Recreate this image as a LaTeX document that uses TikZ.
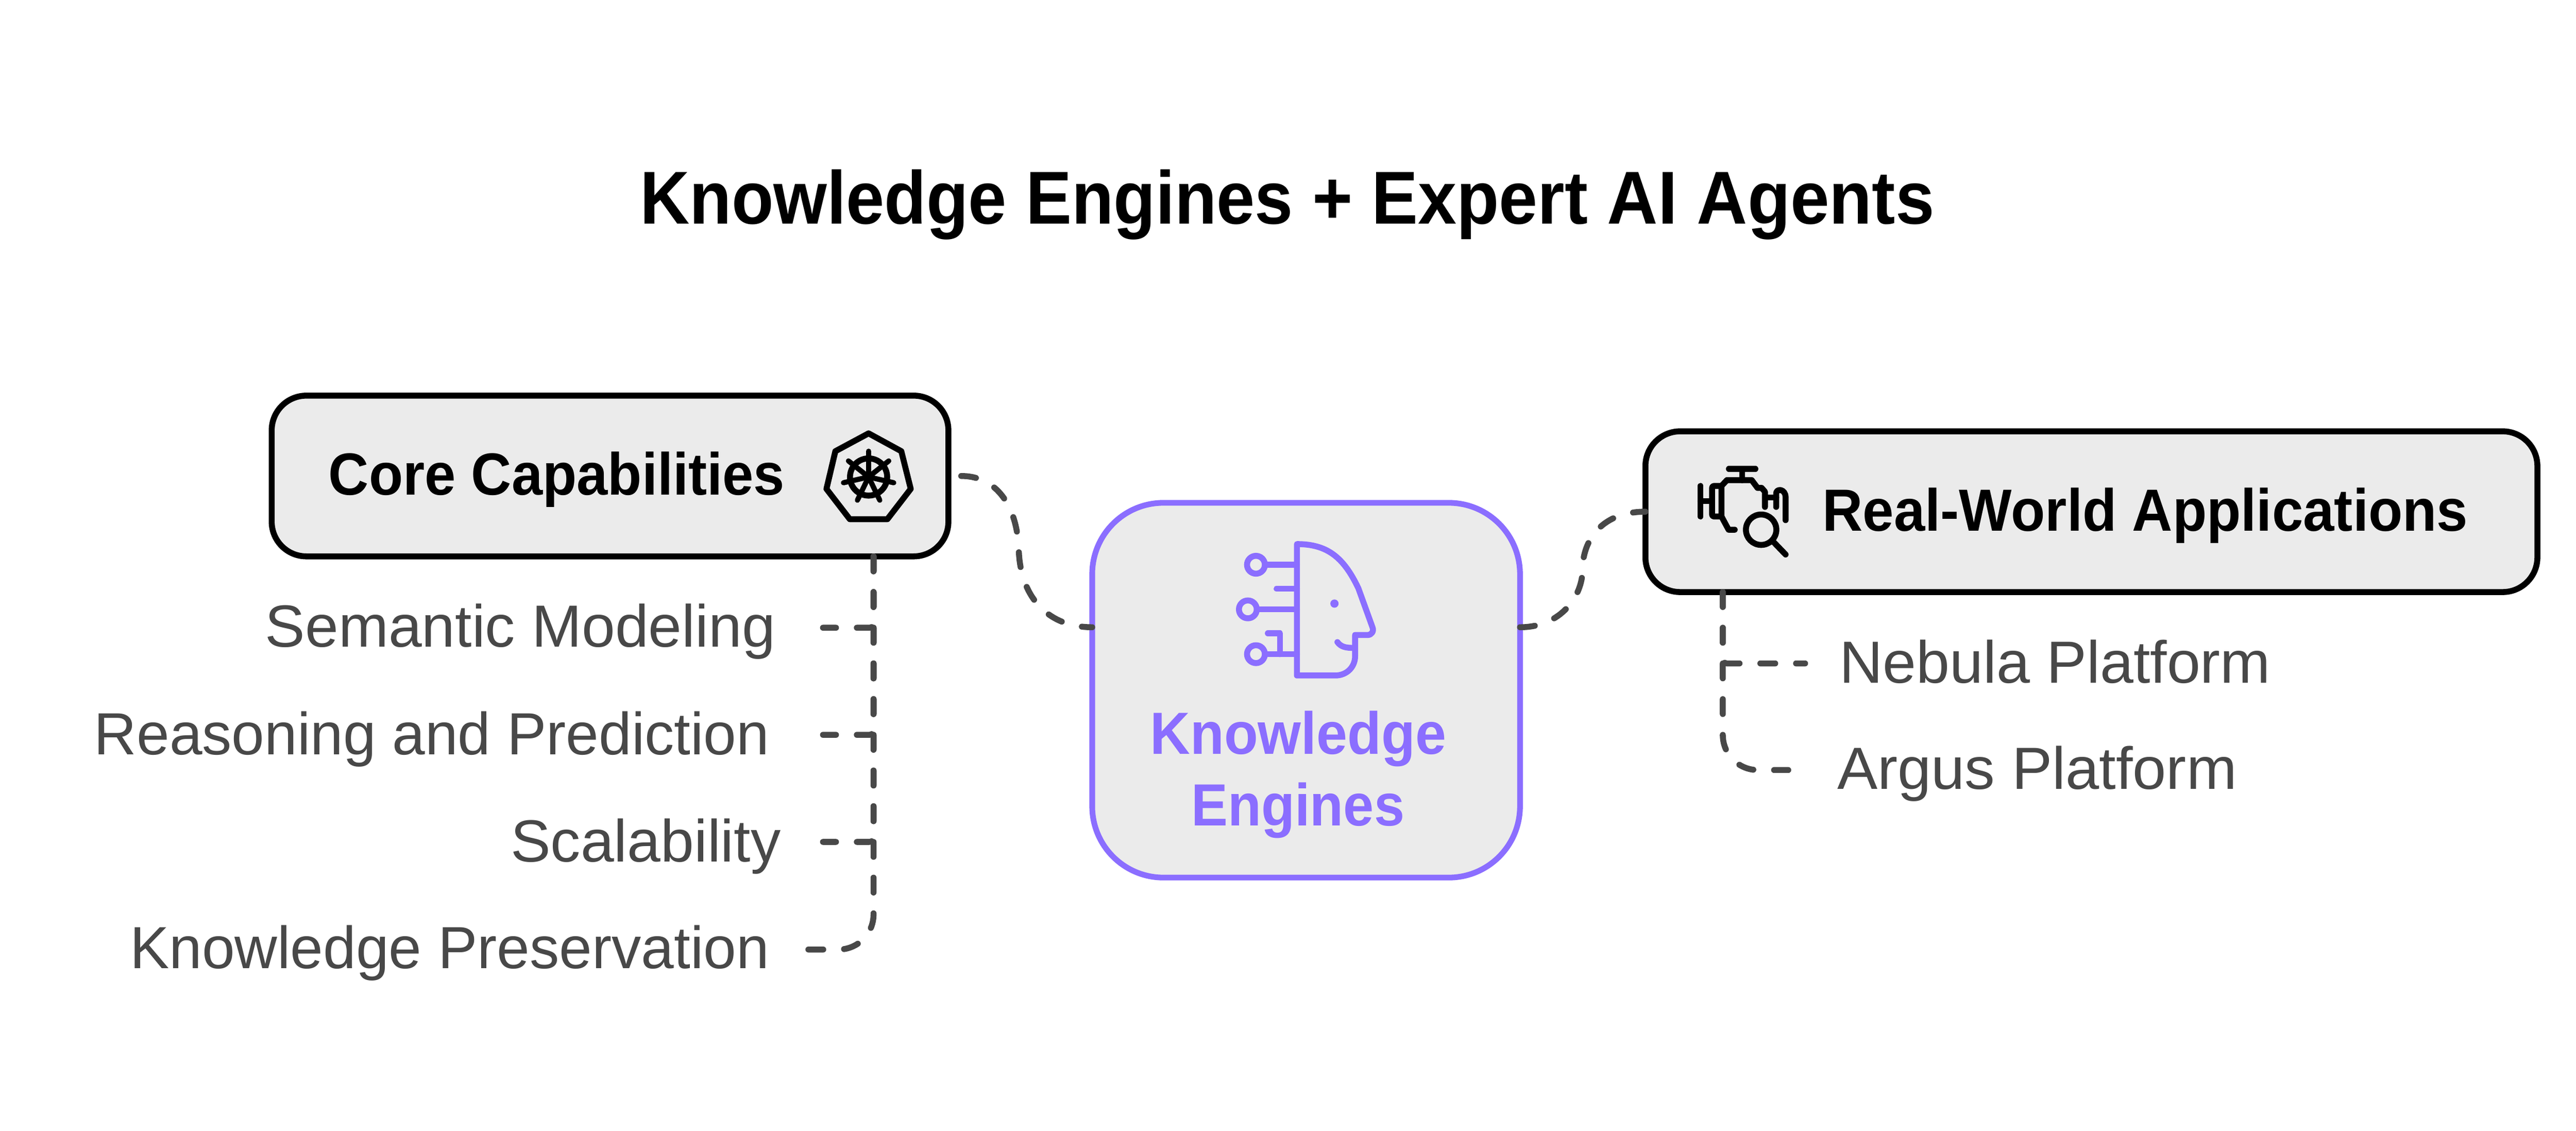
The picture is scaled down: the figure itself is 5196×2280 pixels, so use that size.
\documentclass[tikz,border=0pt]{standalone}
\usepackage{fontspec}
\usepackage{graphicx}
\setmainfont{Liberation Sans}
\newdimen\pxu \pxu=0.24pt
\newcommand{\fitw}[2]{\resizebox{#1\pxu}{\height}{#2}}
\definecolor{boxfill}{HTML}{EBEBEB}
\definecolor{violet}{HTML}{8B6EFF}
\definecolor{linegrey}{HTML}{484848}
\tikzset{
  box/.style={draw=black,fill=boxfill,line width=2.88pt,rectangle,rounded corners=16.8pt,outer sep=0pt,inner sep=0pt},
  enginebox/.style={draw=violet,fill=boxfill,line width=2.76pt,rectangle,rounded corners=34.5pt,outer sep=0pt,inner sep=0pt},
  conn/.style={draw=linegrey,line width=2.88pt,line cap=round,line join=round,dash pattern=on 7.2pt off 10.08pt},
  txt/.style={anchor=base west,inner sep=0pt,outer sep=0pt},
  titletext/.style={txt,font=\fontsize{36.3pt}{44pt}\selectfont\bfseries,text=black},
  headtext/.style={txt,font=\fontsize{28.8pt}{34pt}\selectfont\bfseries,text=black},
  violettext/.style={txt,font=\fontsize{28.8pt}{34pt}\selectfont\bfseries,text=violet},
  itemtext/.style={txt,font=\fontsize{28.8pt}{34pt}\selectfont,text=linegrey},
  ico/.style={line width=2.88pt,line cap=round,line join=round},
}
\begin{document}
\begin{tikzpicture}[x=0.24pt,y=-0.24pt]
\useasboundingbox (0,0) rectangle (5196,2280);
\fill[white] (0,0) rectangle (5196,2280);

\node[titletext] (title) at (1291,452) {\fitw{1356}{Knowledge Engines }\fitw{120}{+ }\fitw{475}{Expert }\fitw{181}{AI }\fitw{479}{Agents}};

\node[box,minimum width=327.6pt,minimum height=77.8pt] (core) at (1230.5,960) {};
\node[box,minimum width=431.8pt,minimum height=77.8pt] (real) at (4218.5,1032) {};
\node[enginebox,minimum width=207.1pt,minimum height=181.4pt] (engines) at (2634.5,1392) {};

\node[headtext] (coretext) at (663,998) {\fitw{920}{Core Capabilities}};
\node[headtext] (realtext) at (3676,1071) {\fitw{1302}{Real-World Applications}};
\node[violettext] (ketext) at (2320,1521) {\fitw{597}{Knowledge}};
\node[violettext] (engtext) at (2403,1665) {\fitw{430}{Engines}};

\node[itemtext] (sem) at (535,1305) {\fitw{1029}{Semantic Modeling}};
\node[itemtext] (rea) at (190,1522) {\fitw{1362}{Reasoning and Prediction}};
\node[itemtext] (sca) at (1030,1738) {\fitw{545}{Scalability}};
\node[itemtext] (kno) at (262,1953) {\fitw{1290}{Knowledge Preservation}};
\node[itemtext] (neb) at (3710,1377) {\fitw{870}{Nebula Platform}};
\node[itemtext] (arg) at (3706,1592) {\fitw{806}{Argus Platform}};

% connector ends
\coordinate (ltrunk) at (1762,1121);
\coordinate (rtrunk) at (3475,1194);
\coordinate (e1) at (1660,1266);
\coordinate (e2) at (1660,1482);
\coordinate (e3) at (1660,1698);
\coordinate (e4) at (1629,1915);
\coordinate (e5) at (3641,1338);
\coordinate (e6) at (3607,1553);

\draw[conn,rounded corners=2pt] (core.south -| ltrunk) |- (e1);
\draw[conn,rounded corners=2pt] (core.south -| ltrunk) |- (e2);
\draw[conn,rounded corners=2pt] (core.south -| ltrunk) |- (e3);
\draw[conn,rounded corners=17pt] (core.south -| ltrunk) |- (e4);
\draw[conn,rounded corners=2pt] (real.south -| rtrunk) |- (e5);
\draw[conn,rounded corners=17pt] (real.south -| rtrunk) |- (e6);

\draw[conn] ([xshift=6.2pt]core.east) .. controls (2010,960) and (2052,1020) .. (2055,1110)
   .. controls (2058,1200) and (2110,1265) .. (engines.west |- 0,1265);
\draw[conn] (engines.east |- 0,1265) .. controls (3150,1265) and (3192,1200) .. (3192,1150)
   .. controls (3192,1090) and (3230,1032) .. (real.west);

% helm icon
\begin{scope}[ico,black]
\draw (1752,874) -- (1818,910) -- (1837,986) -- (1790,1047) -- (1714,1047) -- (1667,986) -- (1685,910) -- cycle;
\draw (1752,962) circle (37.5);
\foreach \a in {90,141.43,192.86,244.29,295.71,347.14,38.57}
  \draw[line width=2.5pt] (1752,962) -- ++(\a:52 and -52);
\end{scope}

% head icon
\begin{scope}[ico,violet,shift={(2420,1040)},scale=0.33333]
\draw (588,172) -- (588,967) -- (820,967) .. controls (890,967) and (940,915) .. (940,850)
  -- (940,722) -- (1015,722) .. controls (1040,722) and (1055,700) .. (1045,675)
  -- (960,440) .. controls (870,250) and (770,172) .. (588,172) -- cycle;
\draw (340,297) circle (54);
\draw (291,567) circle (54);
\draw (340,838) circle (54);
\draw (394,297) -- (588,297);
\draw (465,442) -- (588,442);
\draw (345,567) -- (588,567);
\draw (394,838) -- (588,838);
\draw (412,712) -- (485,712) -- (485,838);
\fill (815,532) circle (25);
\draw (833,765) .. controls (855,795) and (885,800) .. (930,800);
\end{scope}

% engine icon
\begin{scope}[ico,black,shift={(3380,900)},scale=0.33333]
\draw (322,137) -- (482,137);
\draw (402,137) -- (402,205);
\draw (277,240) -- (310,205) -- (460,205) -- (495,252) -- (520,252) -- (540,275) -- (540,367);
\draw (540,310) -- (608,310);
\draw (608,367) -- (608,285) .. controls (608,255) and (665,255) .. (665,310) -- (665,447);
\draw (150,240) -- (150,425);
\draw (150,332) -- (220,332);
\draw (277,240) -- (235,240) .. controls (225,240) and (220,245) .. (220,255) -- (220,410) .. controls (220,420) and (225,425) .. (235,425) -- (277,425) -- cycle;
\draw (277,425) -- (320,505) -- (357,505);
\draw (517,505) circle (92);
\draw (585,572) -- (665,655);
\end{scope}
\end{tikzpicture}
\end{document}
